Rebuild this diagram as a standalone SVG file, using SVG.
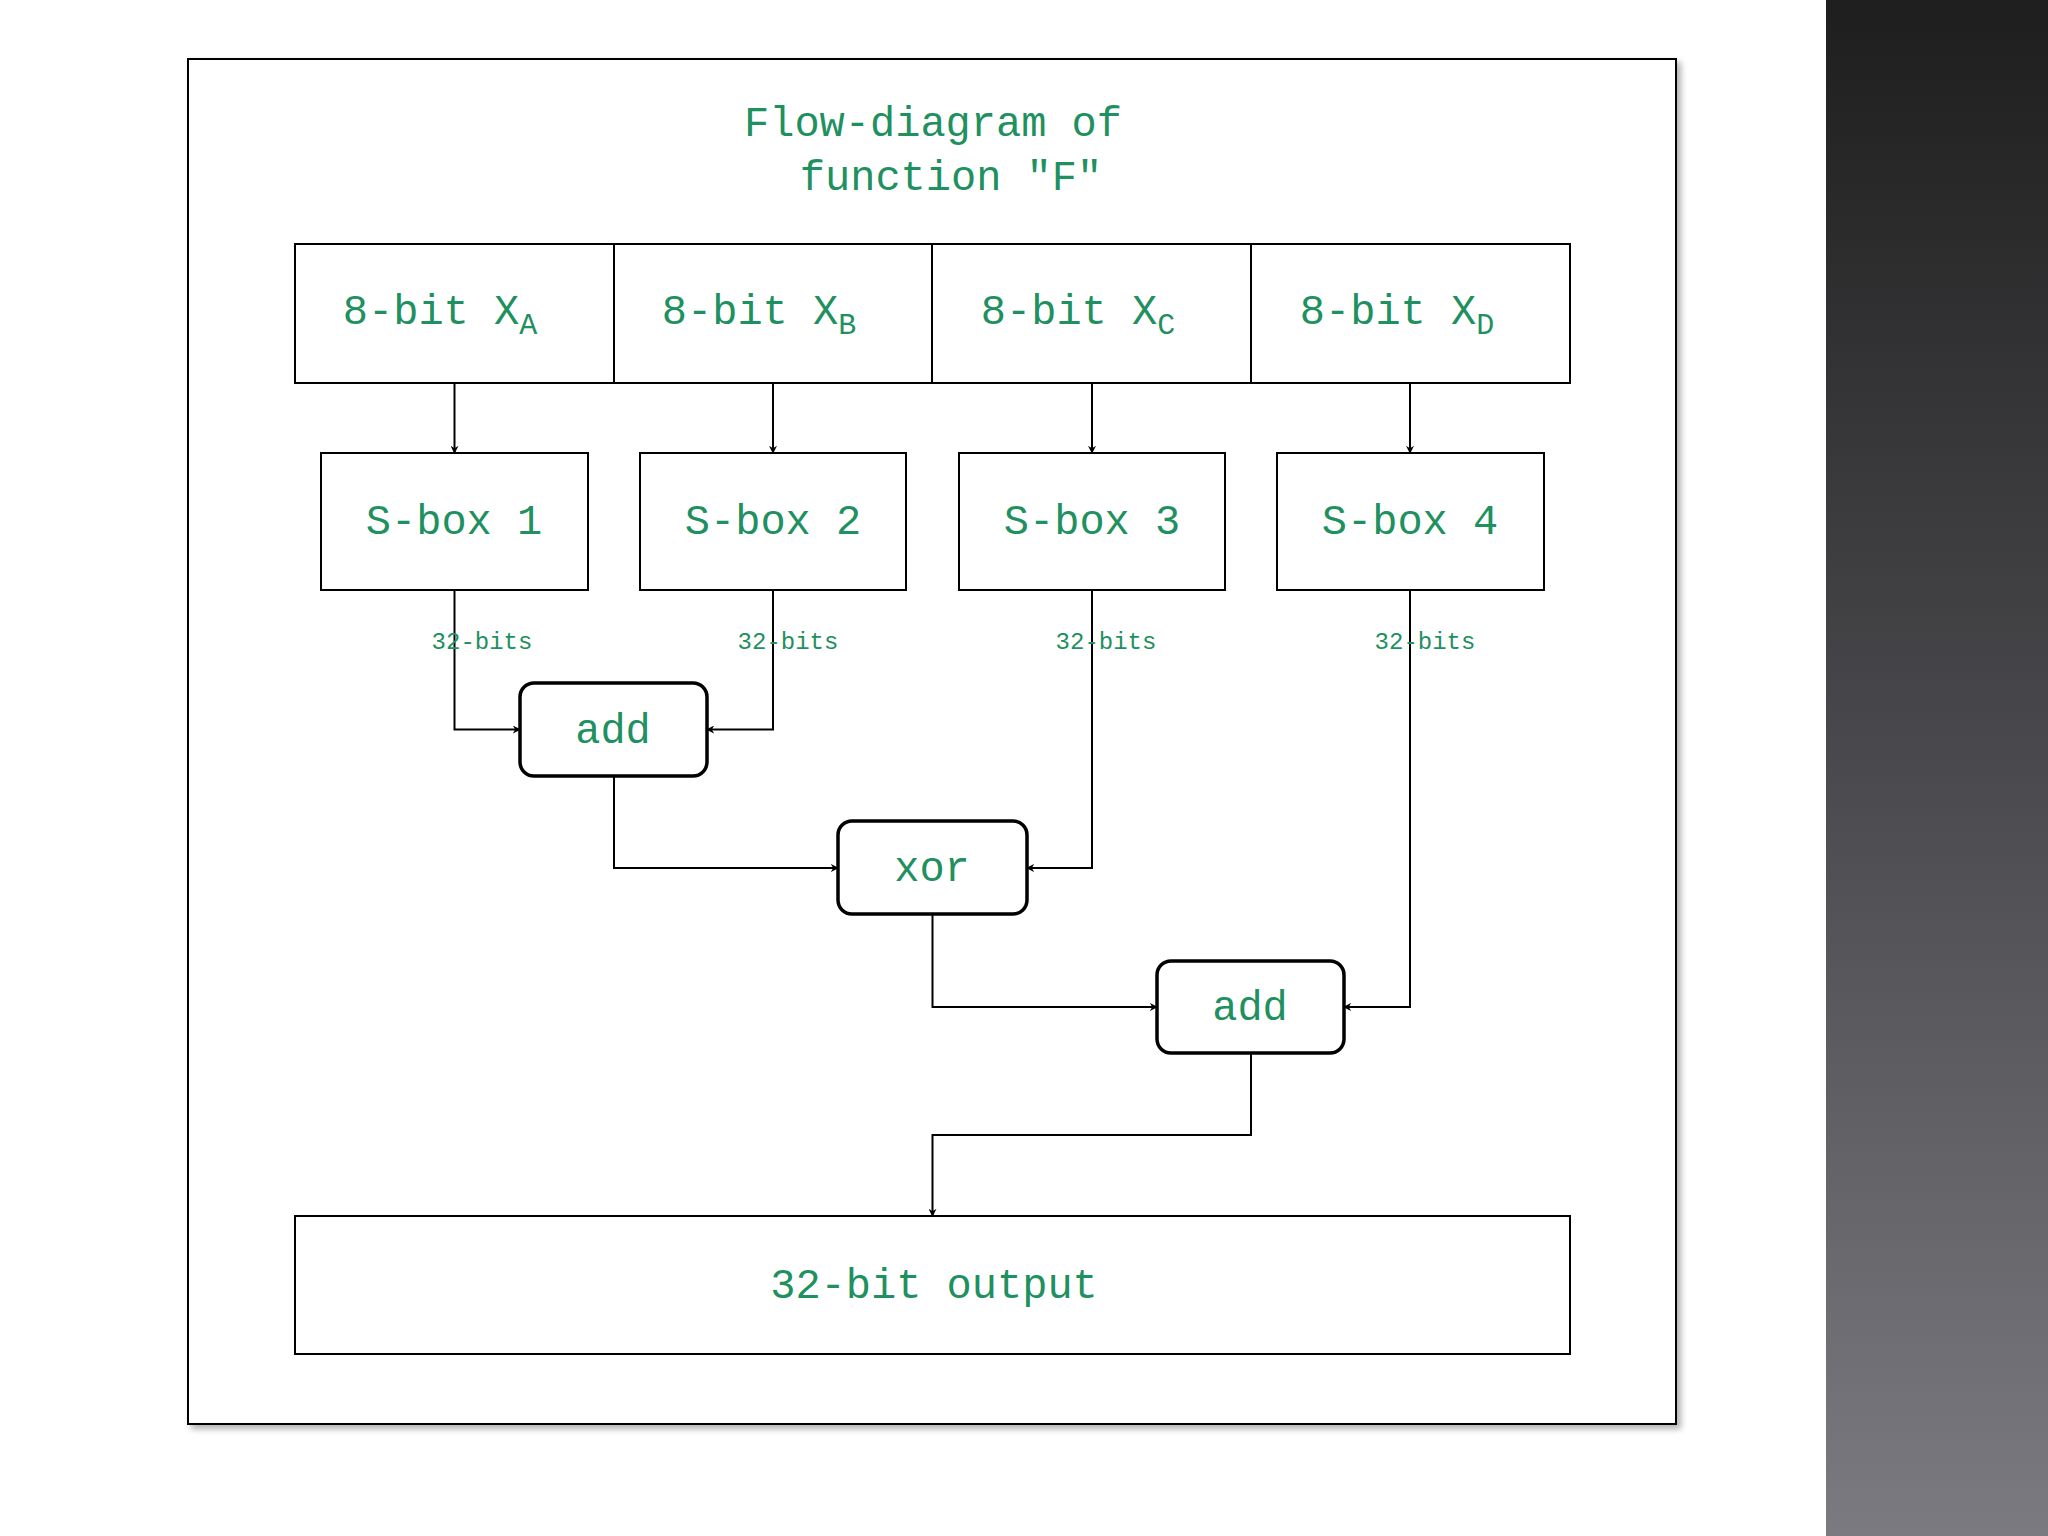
<svg xmlns="http://www.w3.org/2000/svg" width="2048" height="1536" viewBox="0 0 2048 1536">
<defs>
<linearGradient id="g" x1="0" y1="0" x2="0" y2="1"><stop offset="0" stop-color="#1e1e1e"/><stop offset="0.5" stop-color="#4a4a4e"/><stop offset="1" stop-color="#7a7a80"/></linearGradient>
<marker id="a" viewBox="0 0 10 10" refX="9" refY="5" markerWidth="8" markerHeight="8" orient="auto-start-reverse" markerUnits="userSpaceOnUse"><path d="M0,0 L10,5 L0,10 L3,5 z" fill="#000"/></marker>
<filter id="sh"><feDropShadow dx="4" dy="4" stdDeviation="3" flood-opacity="0.3"/></filter>
</defs>
<style>
text{font-family:"Liberation Mono","Courier New",monospace;fill:#1f9060;text-anchor:middle}
.b{fill:#fff;stroke:#000;stroke-width:2}
.r{fill:#fff;stroke:#000;stroke-width:3.5}
.t{font-size:42px}
.s{font-size:24px}
.c path{fill:none;stroke:#000;stroke-width:2;marker-end:url(#a)}
</style>
<rect width="2048" height="1536" fill="#fff"/>
<rect x="1826" y="0" width="222" height="1536" fill="url(#g)"/>
<rect x="188" y="59" width="1488" height="1365" fill="#fff" stroke="#000" stroke-width="2" filter="url(#sh)"/>
<g id="title"><text x="933" y="136" class="t">Flow-diagram of</text><text x="951" y="190" class="t">function "F"</text></g>
<g id="xa"><rect class="b" x="295" y="244" width="319" height="139"/><text x="440" y="324" class="t">8-bit X<tspan font-size="30" dy="10">A</tspan></text></g>
<g id="xb"><rect class="b" x="614" y="244" width="318" height="139"/><text x="759" y="324" class="t">8-bit X<tspan font-size="30" dy="10">B</tspan></text></g>
<g id="xc"><rect class="b" x="932" y="244" width="319" height="139"/><text x="1078" y="324" class="t">8-bit X<tspan font-size="30" dy="10">C</tspan></text></g>
<g id="xd"><rect class="b" x="1251" y="244" width="319" height="139"/><text x="1397" y="324" class="t">8-bit X<tspan font-size="30" dy="10">D</tspan></text></g>
<g id="s1"><rect class="b" x="321" y="453" width="267" height="137"/><text x="454" y="534" class="t">S-box 1</text></g>
<g id="s2"><rect class="b" x="640" y="453" width="266" height="137"/><text x="773" y="534" class="t">S-box 2</text></g>
<g id="s3"><rect class="b" x="959" y="453" width="266" height="137"/><text x="1092" y="534" class="t">S-box 3</text></g>
<g id="s4"><rect class="b" x="1277" y="453" width="267" height="137"/><text x="1410" y="534" class="t">S-box 4</text></g>
<g id="add1"><rect class="r" x="520" y="683" width="187" height="93" rx="14"/><text x="613" y="743" class="t">add</text></g>
<g id="xor"><rect class="r" x="838" y="821" width="189" height="93" rx="14"/><text x="932" y="881" class="t">xor</text></g>
<g id="add2"><rect class="r" x="1157" y="961" width="187" height="92" rx="14"/><text x="1250" y="1020" class="t">add</text></g>
<g id="out"><rect class="b" x="295" y="1216" width="1275" height="138"/><text x="934" y="1298" class="t">32-bit output</text></g>
<g class="c" id="connectors">
<path d="M454.5,383 V453"/><path d="M773,383 V453"/><path d="M1092,383 V453"/><path d="M1410,383 V453"/>
<path d="M454.5,590 V729.5 H520"/><path d="M773,590 V729.5 H707"/>
<path d="M614,776 V868 H838"/><path d="M1092,590 V868 H1027"/>
<path d="M932.5,914 V1007 H1157"/><path d="M1410,590 V1007 H1344"/>
<path d="M1251,1053 V1135 H932.5 V1216"/>
</g>
<g id="labels"><text x="482" y="649" class="s">32-bits</text><text x="788" y="649" class="s">32-bits</text><text x="1106" y="649" class="s">32-bits</text><text x="1425" y="649" class="s">32-bits</text></g>
</svg>
